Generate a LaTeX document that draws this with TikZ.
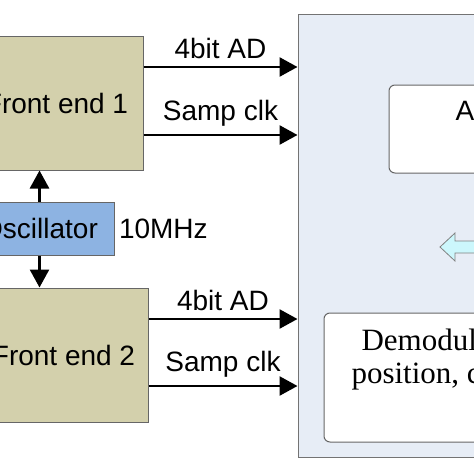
\documentclass[tikz,border=0pt]{standalone}
\usepackage{fontspec}
\setmainfont{Liberation Sans}
\newfontfamily\demodfont{Liberation Serif}
\usetikzlibrary{calc,arrows.meta,positioning}
\definecolor{frontcol}{RGB}{211,208,172}
\definecolor{osccol}{RGB}{141,179,226}
\definecolor{boardcol}{RGB}{231,237,246}
\definecolor{hollowcol}{RGB}{204,247,252}

\begin{document}
\begin{tikzpicture}[%
        x=1pt, y=-1pt,%
        font=\fontsize{28}{32}\selectfont,%
        block/.style={draw=black!60, line width=1pt, inner sep=0pt},%
        sig/.style={line width=2.6pt, -{Triangle[length=18pt, width=19pt]}},%
        sublabel/.style={above=4pt, inner sep=3pt},%
        demodtext/.style={anchor=base west, font=\demodfont\fontsize{31}{36}\selectfont}%
    ]
        \useasboundingbox (0,0) rectangle (474,474);%
        \clip (0,0) rectangle (474,474);%

        %
        % Carte de traitement
        %
        \node[block, fill=boardcol, draw=black!55, minimum width=240pt, minimum height=443pt] (board) at (418,235.5) {};%
        \node[block, fill=white, rounded corners=6pt, minimum width=170pt, minimum height=88pt] (acq) at (474,129) {};%
        \node[anchor=base west] (acq text) at (452,120) {Acquisition};%
        \node[block, fill=white, rounded corners=6pt, minimum width=236pt, minimum height=129pt] (demod) at (442,377.5) {};%
        \node[demodtext] (demod line1) at (358,350) {Demodulation};%
        \node[demodtext] (demod line2) at (348,383) {position, c};%

        % Fleche creuse
        \draw[draw=black!50, line width=0.8pt, fill=hollowcol] (440,247) -- (455,233) -- (455,241) -- (490,241)%
        -- (490,253) -- (455,253) -- (455,261) -- cycle;%

        %
        % Etages d'entree
        %
        \node[block, fill=frontcol, minimum width=173pt, minimum height=134pt] (fe1) at (56.5,103) {Front end 1};%
        \node[block, fill=frontcol, minimum width=169pt, minimum height=134pt] (fe2) at (63.5,355) {Front end 2};%
        \node[block, fill=osccol, minimum width=149pt, minimum height=53pt] (osc) at (39.5,228.5) {Oscillator};%
        \node[right=1pt of osc] (freq) {10MHz};%

        % Horloge
        \draw[sig] (osc.north) -- (osc.north |- fe1.south);%
        \draw[sig] (osc.south) -- (osc.south |- fe2.north);%

        % Donnees et horloge d'echantillonnage
        \foreach \fe/\ya/\yb in {fe1/67/135, fe2/319/386} {%
            \draw[sig] (\fe.east |- 0,\ya) -- (board.west |- 0,\ya) node[midway, sublabel] {4bit AD};%
            \draw[sig] (\fe.east |- 0,\yb) -- (board.west |- 0,\yb) node[midway, sublabel] {Samp clk};%
        }%
    \end{tikzpicture}
\end{document}
